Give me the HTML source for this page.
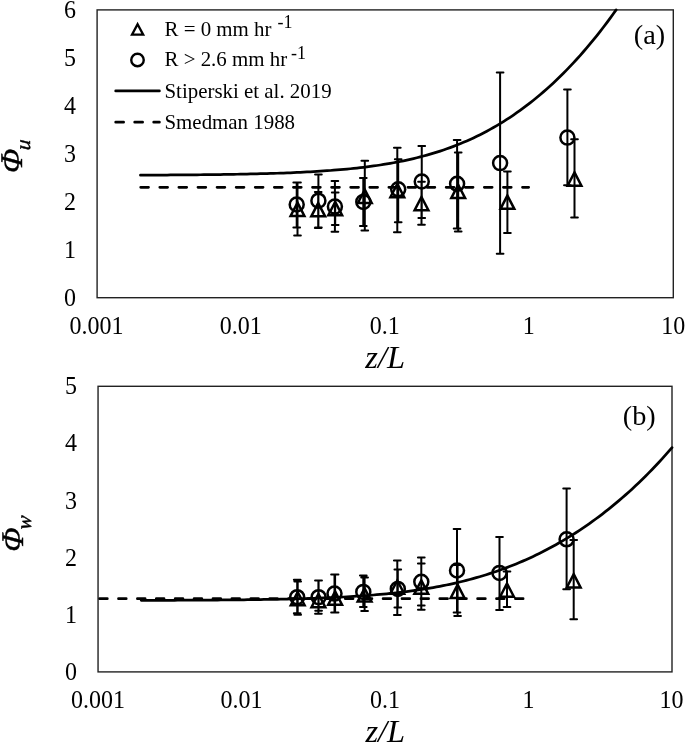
<!DOCTYPE html>
<html lang="en">
<head>
<meta charset="utf-8">
<title>Figure</title>
<style>
html,body{margin:0;padding:0;background:#fff;}
body{width:685px;height:743px;overflow:hidden;}
svg{display:block;}
text{font-family:"Liberation Serif","Times New Roman",serif;fill:#000;}
</style>
</head>
<body>
<svg width="685" height="743" viewBox="0 0 685 743">
<rect width="685" height="743" fill="#fff"/>
<rect x="97.1" y="9.9" width="576.2" height="287.8" fill="none" stroke="#222" stroke-width="1.4"/>
<path d="M296.7 182.4 V227.5 M293.35 182.4 H300.05 M293.35 227.5 H300.05 M318.4 174.4 V227.6 M315.05 174.4 H321.75 M315.05 227.6 H321.75 M334.9 181.1 V231.8 M331.55 181.1 H338.25 M331.55 231.8 H338.25 M363.3 178.1 V226.1 M359.95 178.1 H366.65 M359.95 226.1 H366.65 M398.2 159.3 V222.2 M394.85 159.3 H401.55 M394.85 222.2 H401.55 M421.75 145.9 V217.9 M418.4 145.9 H425.1 M418.4 217.9 H425.1 M457.1 140.1 V228.5 M453.75 140.1 H460.45 M453.75 228.5 H460.45 M500.1 72.5 V253.8 M496.75 72.5 H503.45 M496.75 253.8 H503.45 M567.4 89.5 V185.2 M564.05 89.5 H570.75 M564.05 185.2 H570.75 M297.5 182.4 V235.4 M294.15 182.4 H300.85 M294.15 235.4 H300.85 M318.2 192 V228 M314.85 192 H321.55 M314.85 228 H321.55 M335.2 192.4 V225 M331.85 192.4 H338.55 M331.85 225 H338.55 M364.8 160.7 V230.4 M361.45 160.7 H368.15 M361.45 230.4 H368.15 M397.3 147.7 V232.2 M393.95 147.7 H400.65 M393.95 232.2 H400.65 M421.5 181.8 V224.8 M418.15 181.8 H424.85 M418.15 224.8 H424.85 M458.2 152.5 V231.5 M454.85 152.5 H461.55 M454.85 231.5 H461.55 M507.4 171.6 V233 M504.05 171.6 H510.75 M504.05 233 H510.75 M574.5 139.3 V217.5 M571.15 139.3 H577.85 M571.15 217.5 H577.85" fill="none" stroke="#000" stroke-width="2.0" stroke-linecap="round"/>
<path d="M140.7 187.3 H528.65" fill="none" stroke="#000" stroke-width="2.75" stroke-linecap="round" stroke-dasharray="7.8 11.29"/>
<path d="M140.46 175.14 L143.79 175.13 L147.12 175.11 L150.45 175.1 L153.78 175.08 L157.11 175.07 L160.44 175.05 L163.77 175.03 L167.11 175.01 L170.44 174.99 L173.77 174.97 L177.1 174.95 L180.43 174.92 L183.76 174.9 L187.09 174.87 L190.42 174.84 L193.75 174.81 L197.08 174.78 L200.41 174.75 L203.74 174.72 L207.07 174.68 L210.4 174.64 L213.73 174.6 L217.06 174.56 L220.39 174.51 L223.72 174.47 L227.05 174.42 L230.38 174.36 L233.71 174.31 L237.04 174.25 L240.37 174.19 L243.7 174.12 L247.03 174.06 L250.36 173.98 L253.69 173.91 L257.02 173.83 L260.35 173.74 L263.68 173.66 L267.01 173.56 L270.34 173.46 L273.67 173.36 L277 173.25 L280.33 173.14 L283.66 173.02 L286.99 172.89 L290.32 172.76 L293.65 172.62 L296.98 172.47 L300.31 172.31 L303.64 172.15 L306.97 171.98 L310.31 171.8 L313.64 171.61 L316.97 171.41 L320.3 171.2 L323.63 170.97 L326.96 170.74 L330.29 170.5 L333.62 170.24 L336.95 169.97 L340.28 169.69 L343.61 169.39 L346.94 169.08 L350.27 168.75 L353.6 168.41 L356.93 168.05 L360.26 167.67 L363.59 167.28 L366.92 166.86 L370.25 166.43 L373.58 165.97 L376.91 165.49 L380.24 164.99 L383.57 164.47 L386.9 163.92 L390.23 163.35 L393.56 162.75 L396.89 162.13 L400.22 161.48 L403.55 160.79 L406.88 160.08 L410.21 159.34 L413.54 158.56 L416.87 157.76 L420.2 156.91 L423.53 156.03 L426.86 155.12 L430.19 154.17 L433.52 153.18 L436.85 152.15 L440.18 151.08 L443.51 149.97 L446.84 148.81 L450.17 147.61 L453.5 146.37 L456.84 145.08 L460.17 143.74 L463.5 142.35 L466.83 140.92 L470.16 139.43 L473.49 137.89 L476.82 136.3 L480.15 134.66 L483.48 132.96 L486.81 131.2 L490.14 129.39 L493.47 127.52 L496.8 125.59 L500.13 123.61 L503.46 121.56 L506.79 119.45 L510.12 117.28 L513.45 115.04 L516.78 112.74 L520.11 110.37 L523.44 107.94 L526.77 105.44 L530.1 102.88 L533.43 100.24 L536.76 97.53 L540.09 94.76 L543.42 91.91 L546.75 88.99 L550.08 85.99 L553.41 82.92 L556.74 79.78 L560.07 76.55 L563.4 73.26 L566.73 69.88 L570.06 66.42 L573.39 62.88 L576.72 59.27 L580.05 55.56 L583.38 51.78 L586.71 47.91 L590.04 43.96 L593.37 39.91 L596.7 35.78 L600.03 31.57 L603.37 27.26 L606.7 22.86 L610.03 18.36 L613.36 13.77 L616.11 9.9" fill="none" stroke="#000" stroke-width="2.75" stroke-linejoin="round" stroke-linecap="round"/>
<g fill="none" stroke="#000" stroke-width="2.5" stroke-linejoin="miter"><path d="M297.5 202.67 L304.4 215.96 L290.6 215.96 Z"/><path d="M318.2 203.07 L325.1 216.36 L311.3 216.36 Z"/><path d="M335.2 201.87 L342.1 215.16 L328.3 215.16 Z"/><path d="M364.8 189.67 L371.7 202.96 L357.9 202.96 Z"/><path d="M397.3 183.87 L404.2 197.16 L390.4 197.16 Z"/><path d="M421.5 196.97 L428.4 210.26 L414.6 210.26 Z"/><path d="M458.2 184.77 L465.1 198.06 L451.3 198.06 Z"/><path d="M507.4 195.57 L514.3 208.86 L500.5 208.86 Z"/><path d="M574.5 172.37 L581.4 185.66 L567.6 185.66 Z"/></g>
<g fill="none" stroke="#000" stroke-width="2.5"><circle cx="296.7" cy="204.5" r="7"/><circle cx="318.4" cy="200.7" r="7"/><circle cx="334.9" cy="206.6" r="7"/><circle cx="363.3" cy="201.9" r="7"/><circle cx="398.2" cy="189.3" r="7"/><circle cx="421.75" cy="181.5" r="7"/><circle cx="457.1" cy="183.8" r="7"/><circle cx="500.1" cy="163.1" r="7"/><circle cx="567.4" cy="137.6" r="7"/></g>
<rect x="98.05" y="386.3" width="573.95" height="285.6" fill="none" stroke="#222" stroke-width="1.4"/>
<path d="M297.2 579.8 V613.2 M293.85 579.8 H300.55 M293.85 613.2 H300.55 M318.6 580.5 V610.8 M315.25 580.5 H321.95 M315.25 610.8 H321.95 M334.5 574.5 V612.5 M331.15 574.5 H337.85 M331.15 612.5 H337.85 M363.3 575.5 V606.9 M359.95 575.5 H366.65 M359.95 606.9 H366.65 M397.8 569.6 V607.5 M394.45 569.6 H401.15 M394.45 607.5 H401.15 M421.3 557.5 V605.5 M417.95 557.5 H424.65 M417.95 605.5 H424.65 M457 528.9 V612.6 M453.65 528.9 H460.35 M453.65 612.6 H460.35 M499.5 536.9 V610.1 M496.15 536.9 H502.85 M496.15 610.1 H502.85 M566.6 488.4 V589.2 M563.25 488.4 H569.95 M563.25 589.2 H569.95 M297.7 581.5 V614.8 M294.35 581.5 H301.05 M294.35 614.8 H301.05 M318.4 580.5 V613.8 M315.05 580.5 H321.75 M315.05 613.8 H321.75 M335.1 574.6 V612.5 M331.75 574.6 H338.45 M331.75 612.5 H338.45 M364.6 577.6 V611 M361.25 577.6 H367.95 M361.25 611 H367.95 M397.3 560.5 V615 M393.95 560.5 H400.65 M393.95 615 H400.65 M421.3 563.5 V609.75 M417.95 563.5 H424.65 M417.95 609.75 H424.65 M457.6 565.1 V616.1 M454.25 565.1 H460.95 M454.25 616.1 H460.95 M507 571.5 V606.9 M503.65 571.5 H510.35 M503.65 606.9 H510.35 M573.7 539.9 V619.3 M570.35 539.9 H577.05 M570.35 619.3 H577.05" fill="none" stroke="#000" stroke-width="2.0" stroke-linecap="round"/>
<path d="M99.6 598.7 H527.91" fill="none" stroke="#000" stroke-width="2.75" stroke-linecap="round" stroke-dasharray="7.7 11.2"/>
<path d="M141.24 600.36 L144.56 600.35 L147.88 600.34 L151.2 600.33 L154.51 600.32 L157.83 600.31 L161.15 600.3 L164.46 600.29 L167.78 600.28 L171.1 600.27 L174.42 600.26 L177.73 600.24 L181.05 600.23 L184.37 600.22 L187.69 600.2 L191 600.18 L194.32 600.17 L197.64 600.15 L200.95 600.13 L204.27 600.11 L207.59 600.09 L210.91 600.07 L214.22 600.04 L217.54 600.02 L220.86 599.99 L224.17 599.96 L227.49 599.93 L230.81 599.9 L234.13 599.87 L237.44 599.84 L240.76 599.8 L244.08 599.76 L247.4 599.72 L250.71 599.68 L254.03 599.64 L257.35 599.59 L260.66 599.54 L263.98 599.49 L267.3 599.44 L270.62 599.38 L273.93 599.32 L277.25 599.26 L280.57 599.19 L283.88 599.12 L287.2 599.04 L290.52 598.97 L293.84 598.88 L297.15 598.8 L300.47 598.71 L303.79 598.61 L307.11 598.51 L310.42 598.41 L313.74 598.29 L317.06 598.18 L320.37 598.05 L323.69 597.93 L327.01 597.79 L330.33 597.65 L333.64 597.5 L336.96 597.34 L340.28 597.18 L343.59 597 L346.91 596.82 L350.23 596.63 L353.55 596.43 L356.86 596.22 L360.18 596 L363.5 595.77 L366.82 595.52 L370.13 595.27 L373.45 595 L376.77 594.73 L380.08 594.43 L383.4 594.13 L386.72 593.81 L390.04 593.48 L393.35 593.13 L396.67 592.76 L399.99 592.38 L403.3 591.98 L406.62 591.57 L409.94 591.13 L413.26 590.68 L416.57 590.21 L419.89 589.72 L423.21 589.2 L426.53 588.67 L429.84 588.12 L433.16 587.54 L436.48 586.94 L439.79 586.31 L443.11 585.66 L446.43 584.99 L449.75 584.29 L453.06 583.56 L456.38 582.81 L459.7 582.03 L463.01 581.22 L466.33 580.38 L469.65 579.51 L472.97 578.61 L476.28 577.68 L479.6 576.73 L482.92 575.73 L486.24 574.71 L489.55 573.65 L492.87 572.56 L496.19 571.43 L499.5 570.27 L502.82 569.08 L506.14 567.85 L509.46 566.58 L512.77 565.27 L516.09 563.93 L519.41 562.55 L522.72 561.13 L526.04 559.67 L529.36 558.17 L532.68 556.63 L535.99 555.05 L539.31 553.43 L542.63 551.77 L545.95 550.07 L549.26 548.32 L552.58 546.53 L555.9 544.69 L559.21 542.81 L562.53 540.88 L565.85 538.91 L569.17 536.89 L572.48 534.83 L575.8 532.72 L579.12 530.56 L582.43 528.35 L585.75 526.09 L589.07 523.78 L592.39 521.42 L595.7 519.01 L599.02 516.55 L602.34 514.03 L605.66 511.46 L608.97 508.84 L612.29 506.16 L615.61 503.43 L618.92 500.64 L622.24 497.79 L625.56 494.88 L628.88 491.92 L632.19 488.9 L635.51 485.81 L638.83 482.66 L642.14 479.46 L645.46 476.18 L648.78 472.85 L652.1 469.45 L655.41 465.98 L658.73 462.44 L662.05 458.84 L665.37 455.16 L668.68 451.42 L672 447.61" fill="none" stroke="#000" stroke-width="2.75" stroke-linejoin="round" stroke-linecap="round"/>
<g fill="none" stroke="#000" stroke-width="2.5" stroke-linejoin="miter"><path d="M297.7 591.97 L304.6 605.26 L290.8 605.26 Z"/><path d="M318.4 593.87 L325.3 607.16 L311.5 607.16 Z"/><path d="M335.1 591.37 L342 604.66 L328.2 604.66 Z"/><path d="M364.6 588.27 L371.5 601.56 L357.7 601.56 Z"/><path d="M397.3 580.47 L404.2 593.76 L390.4 593.76 Z"/><path d="M421.3 580.37 L428.2 593.66 L414.4 593.66 Z"/><path d="M457.6 584.67 L464.5 597.96 L450.7 597.96 Z"/><path d="M507 583.47 L513.9 596.76 L500.1 596.76 Z"/><path d="M573.7 574.17 L580.6 587.46 L566.8 587.46 Z"/></g>
<g fill="none" stroke="#000" stroke-width="2.5"><circle cx="297.2" cy="597.2" r="7"/><circle cx="318.6" cy="597.2" r="7"/><circle cx="334.5" cy="593.6" r="7"/><circle cx="363.3" cy="591.9" r="7"/><circle cx="397.8" cy="588.9" r="7"/><circle cx="421.3" cy="581.8" r="7"/><circle cx="457" cy="570.5" r="7"/><circle cx="499.5" cy="572.9" r="7"/><circle cx="566.6" cy="539.3" r="7"/></g>
<path d="M137.6 24.2 L143.2 34.7 L132 34.7 Z" fill="none" stroke="#000" stroke-width="2.3"/>
<circle cx="137.5" cy="60.0" r="6.25" fill="none" stroke="#000" stroke-width="2.4"/>
<path d="M115.7 90.95 H159.4" stroke="#000" stroke-width="2.75" stroke-linecap="round"/>
<path d="M115.7 122.2 H159.4" stroke="#000" stroke-width="2.75" stroke-linecap="round" stroke-dasharray="7.9 11.1"/>
<text transform="translate(75.9,306.1) scale(1,1.05)" font-size="24" text-anchor="end" >0</text>
<text transform="translate(75.9,258.13) scale(1,1.05)" font-size="24" text-anchor="end" >1</text>
<text transform="translate(75.9,210.17) scale(1,1.05)" font-size="24" text-anchor="end" >2</text>
<text transform="translate(75.9,162.2) scale(1,1.05)" font-size="24" text-anchor="end" >3</text>
<text transform="translate(75.9,114.23) scale(1,1.05)" font-size="24" text-anchor="end" >4</text>
<text transform="translate(75.9,66.27) scale(1,1.05)" font-size="24" text-anchor="end" >5</text>
<text transform="translate(75.9,18.3) scale(1,1.05)" font-size="24" text-anchor="end" >6</text>
<text transform="translate(76.9,679.9) scale(1,1.05)" font-size="24" text-anchor="end" >0</text>
<text transform="translate(76.9,622.78) scale(1,1.05)" font-size="24" text-anchor="end" >1</text>
<text transform="translate(76.9,565.66) scale(1,1.05)" font-size="24" text-anchor="end" >2</text>
<text transform="translate(76.9,508.54) scale(1,1.05)" font-size="24" text-anchor="end" >3</text>
<text transform="translate(76.9,451.42) scale(1,1.05)" font-size="24" text-anchor="end" >4</text>
<text transform="translate(76.9,394.3) scale(1,1.05)" font-size="24" text-anchor="end" >5</text>
<text transform="translate(96.6,334.1) scale(1,1.05)" font-size="24" text-anchor="middle" >0.001</text>
<text transform="translate(240.65,334.1) scale(1,1.05)" font-size="24" text-anchor="middle" >0.01</text>
<text transform="translate(384.7,334.1) scale(1,1.05)" font-size="24" text-anchor="middle" >0.1</text>
<text transform="translate(528.75,334.1) scale(1,1.05)" font-size="24" text-anchor="middle" >1</text>
<text transform="translate(673.3,334.1) scale(1,1.05)" font-size="24" text-anchor="middle" >10</text>
<text transform="translate(98.05,708.4) scale(1,1.05)" font-size="24" text-anchor="middle" >0.001</text>
<text transform="translate(241.54,708.4) scale(1,1.05)" font-size="24" text-anchor="middle" >0.01</text>
<text transform="translate(385.03,708.4) scale(1,1.05)" font-size="24" text-anchor="middle" >0.1</text>
<text transform="translate(528.51,708.4) scale(1,1.05)" font-size="24" text-anchor="middle" >1</text>
<text transform="translate(671.5,708.4) scale(1,1.05)" font-size="24" text-anchor="middle" >10</text>
<text x="385.2" y="368" font-size="32.5" text-anchor="middle" font-style="italic">z/L</text>
<text x="385.3" y="742.1" font-size="32.5" text-anchor="middle" font-style="italic">z/L</text>
<text transform="translate(22.0,173.8) rotate(-90) skewX(-5)" font-size="31.5" font-style="italic" stroke="#000" stroke-width="0.45">&#934;<tspan font-size="21" dx="-0.1" dy="7.7">u</tspan></text>
<text transform="translate(23.1,552.5) rotate(-90) skewX(-5)" font-size="31.5" font-style="italic" stroke="#000" stroke-width="0.45">&#934;<tspan font-size="21" dx="-0.75" dy="7.4">w</tspan></text>
<text x="633.8" y="44.2" font-size="28.3" text-anchor="start" >(a)</text>
<text x="622.8" y="424.6" font-size="28.3" text-anchor="start" >(b)</text>
<text x="164.5" y="35.8" font-size="20.9">R = 0 mm hr<tspan x="277.6" font-size="18" dy="-7.5">-1</tspan></text>
<text x="164.5" y="66.3" font-size="20.9">R &gt; 2.6 mm hr<tspan x="291.1" font-size="18" dy="-7.5">-1</tspan></text>
<text x="164.5" y="97.6" font-size="20.9">Stiperski et al. 2019</text>
<text x="164.5" y="129" font-size="20.9">Smedman 1988</text>
</svg>
</body>
</html>
